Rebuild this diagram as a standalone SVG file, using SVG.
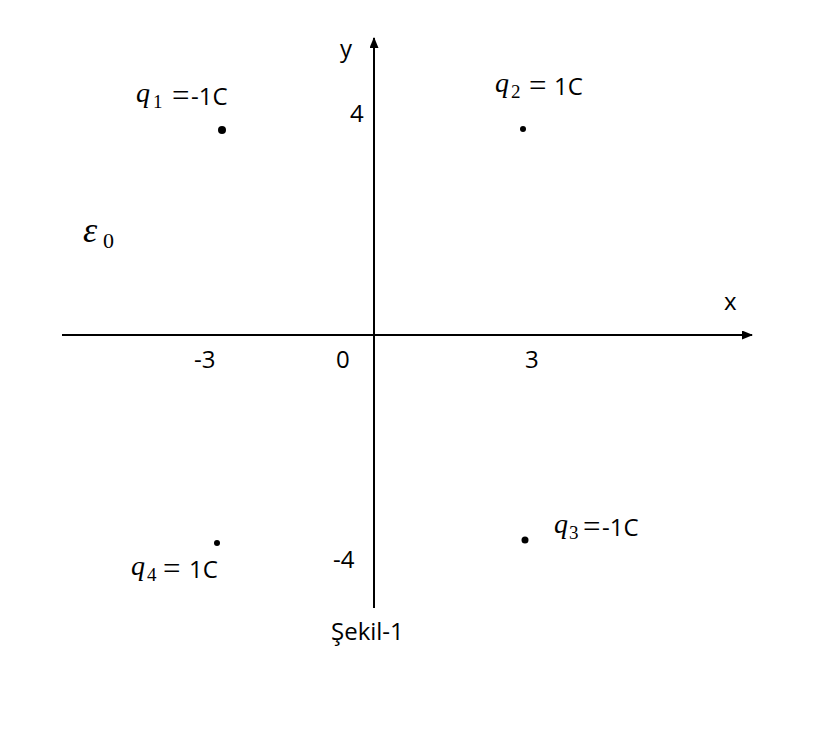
<svg xmlns="http://www.w3.org/2000/svg" width="815" height="756" viewBox="0 0 815 756">
<style>
.t{font-family:"Open Sans","Liberation Sans",sans-serif;font-size:24px;fill:#000}
.m{font-family:"Liberation Serif","DejaVu Serif",serif;font-style:italic;font-size:28px;fill:#000}
.s{font-family:"Liberation Serif","DejaVu Serif",serif;font-size:19px;fill:#000}
.e{font-family:"Liberation Serif","DejaVu Serif",serif;font-size:31px;fill:#000}
.ax{stroke:#000;stroke-width:2;fill:none}
</style>
<defs>
<marker id="ah" markerWidth="11" markerHeight="9" refX="10" refY="4.5" orient="auto" markerUnits="userSpaceOnUse">
<path d="M0,0 L11,4.5 L0,9 Z" fill="#000"/>
</marker>
</defs>
<rect width="815" height="756" fill="#fff"/>
<g id="connectors">
<line class="ax" x1="62" y1="335" x2="752" y2="335" marker-end="url(#ah)"/>
<line class="ax" x1="374" y1="608" x2="374" y2="38" marker-end="url(#ah)"/>
</g>
<g id="axis-labels">
<text class="t" x="340" y="57">y</text>
<text class="t" x="724" y="310">x</text>
<text class="t" x="350" y="122">4</text>
<text class="t" x="194" y="368">-3</text>
<text class="t" x="336" y="368">0</text>
<text class="t" x="525" y="368">3</text>
<text class="t" x="333" y="568">-4</text>
<text class="t" x="331" y="640">Şekil-1</text>
</g>
<g id="eps">
<text class="m" x="83" y="242" style="font-size:36px">ε</text><text class="s" x="103" y="248" style="font-size:22px">0</text>
</g>
<g id="q1">
<circle cx="222" cy="130" r="4" fill="#000"/>
<text class="m" x="136" y="102">q</text><text class="s" x="153" y="108">1</text><text class="e" x="172" y="106">=</text><text class="t" x="191" y="105">-1C</text>
</g>
<g id="q2">
<circle cx="523" cy="129" r="3" fill="#000"/>
<text class="m" x="495" y="92">q</text><text class="s" x="511" y="98">2</text><text class="e" x="529" y="96">=</text><text class="t" x="554" y="95">1C</text>
</g>
<g id="q3">
<circle cx="525" cy="540" r="3.5" fill="#000"/>
<text class="m" x="554" y="533">q</text><text class="s" x="569" y="539">3</text><text class="e" x="583" y="537">=</text><text class="t" x="602" y="536">-1C</text>
</g>
<g id="q4">
<circle cx="217" cy="543" r="3" fill="#000"/>
<text class="m" x="131" y="575">q</text><text class="s" x="147" y="581">4</text><text class="e" x="163" y="579">=</text><text class="t" x="189" y="578">1C</text>
</g>
</svg>
